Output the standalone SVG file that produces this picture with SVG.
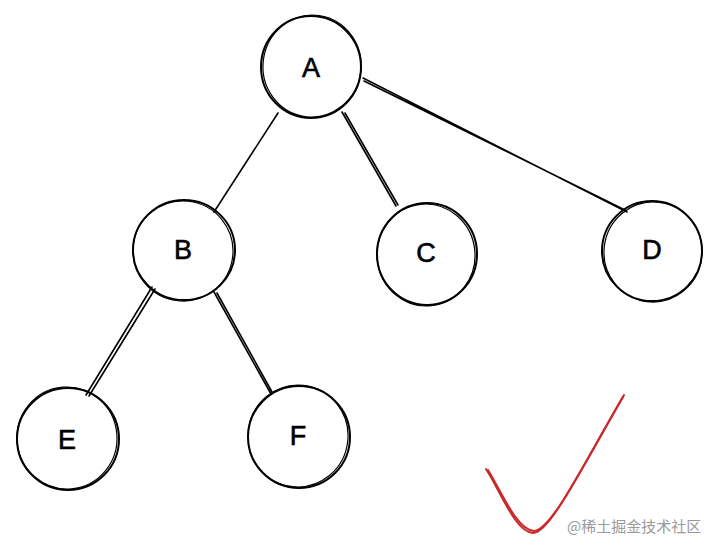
<svg xmlns="http://www.w3.org/2000/svg" width="720" height="552" viewBox="0 0 720 552">
<style>
.c{fill:none;stroke:#000;stroke-width:2}
.c2{fill:none;stroke:#000;stroke-width:1.2}
.e{stroke:#000;stroke-width:1.6;fill:none;stroke-linecap:round}
.t{font-family:"Liberation Sans",Arial,sans-serif;font-size:27px;fill:#000;stroke:#000;stroke-width:0.6;text-anchor:middle;dominant-baseline:central}
.chk{fill:none;stroke:#c92a2a;stroke-width:2;stroke-linecap:round}
.wm{font-family:"Noto Sans CJK SC","Liberation Sans",sans-serif;font-size:15px;fill:#9a9a9a}
</style>
<rect width="720" height="552" fill="#fff"/>
<g id="edges">
<path class="e" d="M278 113 L214 212"/>
<path class="e" d="M342 112 L396 206 M345 113 L398 205"/>
<path class="e" d="M363 78 L627 212 M364 81 L625 210"/>
<path class="e" d="M152 287 L86 395 M155 289 L89 396"/>
<path class="e" d="M214 292 L271 394 M217 293 L272 392"/>
</g>
<g id="A">
<ellipse class="c" cx="311" cy="67" rx="50" ry="51"/>
<ellipse class="c2" cx="312" cy="66" rx="49" ry="51" transform="rotate(8 312 66)"/>
<text class="t" x="311" y="68">A</text>
</g>
<g id="B">
<ellipse class="c" cx="184" cy="250" rx="51" ry="50"/>
<ellipse class="c2" cx="183" cy="251" rx="50" ry="50" transform="rotate(6 183 251)"/>
<text class="t" x="183" y="250">B</text>
</g>
<g id="C">
<ellipse class="c" cx="427" cy="254" rx="50" ry="51"/>
<ellipse class="c2" cx="426" cy="255" rx="49" ry="51" transform="rotate(-6 426 255)"/>
<text class="t" x="426" y="253">C</text>
</g>
<g id="D">
<ellipse class="c" cx="652" cy="251" rx="50" ry="50"/>
<ellipse class="c2" cx="653" cy="252" rx="49" ry="50" transform="rotate(7 653 252)"/>
<text class="t" x="652" y="250">D</text>
</g>
<g id="E">
<ellipse class="c" cx="68" cy="439" rx="51" ry="51"/>
<ellipse class="c2" cx="67" cy="438" rx="50" ry="51" transform="rotate(-5 67 438)"/>
<text class="t" x="67" y="440">E</text>
</g>
<g id="F">
<ellipse class="c" cx="299" cy="437" rx="51" ry="51"/>
<ellipse class="c2" cx="298" cy="436" rx="50" ry="51" transform="rotate(6 298 436)"/>
<text class="t" x="298" y="436">F</text>
</g>
<g id="check">
<path class="chk" d="M486 469 C500 490 515 532 533 533 C550 533 580 470 624 395"/>
<path class="chk" d="M488 470 C502 493 517 530 534 531 C551 530 582 468 623 397" stroke-width="1"/>
</g>
<text class="wm" x="567" y="532">@稀土掘金技术社区</text>
</svg>
